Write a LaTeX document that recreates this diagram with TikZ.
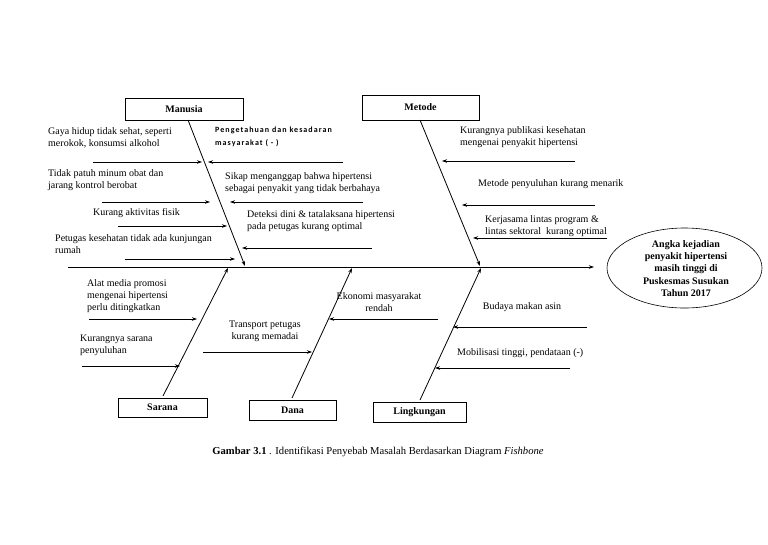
\documentclass[tikz,border=0pt]{standalone}
\usepackage{fontspec}
\setmainfont{Liberation Serif}
\newfontfamily\calibfont{Carlito}[LetterSpace=13]
\usetikzlibrary{arrows.meta,shapes.geometric}
\begin{document}
\begin{tikzpicture}[x=1pt,y=-1pt,
  txt/.style={font=\fontsize{10}{12}\selectfont, inner sep=0pt, align=left},
  ctxt/.style={font=\fontsize{10}{12}\selectfont, inner sep=0pt, align=center},
  cat/.style={draw, line width=0.8pt, inner sep=0pt, font=\bfseries\fontsize{10}{12}\selectfont},
  bone/.style={line width=0.8pt, -{Stealth[length=5pt,width=3.5pt]}},
  sub/.style={line width=0.7pt, -{Stealth[length=5pt,width=3.5pt]}}]
\useasboundingbox (0,0) rectangle (768,544);

% category boxes
\node[cat, minimum width=118pt, minimum height=22pt] (manusia) at (184,109) {Manusia};
\node[cat, minimum width=117pt, minimum height=25pt] (metode) at (420.5,107.5) {Metode};
\node[cat, minimum width=89pt, minimum height=19pt] (sarana) at (162.5,407.5) {Sarana};
\node[cat, minimum width=87pt, minimum height=20pt] (dana) at (292.5,410) {Dana};
\node[cat, minimum width=93pt, minimum height=20pt] (lingk) at (419.5,412) {Lingkungan};

% effect
\node[ellipse, draw, line width=0.6pt, minimum width=155pt, minimum height=80pt, inner sep=0pt] (effect) at (684.5,268) {};
\node[font=\bfseries\fontsize{10}{12.3}\selectfont, align=center, inner sep=0pt] (efftxt) at (686,268.5)
  {Angka kejadian\\penyakit hipertensi\\masih tinggi di\\Puskesmas Susukan\\Tahun 2017};

% spine
\coordinate (s0) at (68,267);
\coordinate (s1) at (594,267);
\draw[bone] (s0) -- (s1);

% main bones
\coordinate (m1) at (188,120); \coordinate (m2) at (245,266);
\coordinate (t1) at (420,120); \coordinate (t2) at (480,266);
\coordinate (a1) at (163,396); \coordinate (a2) at (228,268);
\coordinate (d1) at (292,398); \coordinate (d2) at (352,268);
\coordinate (l1) at (420,400); \coordinate (l2) at (481,268);
\draw[bone] (m1) -- (m2);
\draw[bone] (t1) -- (t2);
\draw[bone] (a1) -- (a2);
\draw[bone] (d1) -- (d2);
\draw[bone] (l1) -- (l2);

% Manusia causes
\coordinate (ma1) at (93,162);  \coordinate (ma2) at (202,162);
\coordinate (mb1) at (343,162); \coordinate (mb2) at (208,162);
\coordinate (mc1) at (102,202); \coordinate (mc2) at (210,202);
\coordinate (md1) at (363,202); \coordinate (md2) at (230,202);
\coordinate (me1) at (118,226); \coordinate (me2) at (227,226);
\coordinate (mf1) at (372,248); \coordinate (mf2) at (242,248);
\coordinate (mg1) at (125,259); \coordinate (mg2) at (235,259);
\foreach \p in {ma,mb,mc,md,me,mf,mg} \draw[sub] (\p1) -- (\p2);

\node[txt, anchor=west] (tma) at (48,138) {Gaya hidup tidak sehat, seperti\\merokok, konsumsi alkohol};
\node[font=\calibfont\bfseries\fontsize{8}{12.5}\selectfont, inner sep=0pt, align=left, anchor=west] (tmb) at (215,137) {Pengetahuan dan kesadaran\\masyarakat ( - )};
\node[txt, anchor=west] (tmc) at (48,180.5) {Tidak patuh minum obat dan\\jarang kontrol berobat};
\node[txt, anchor=west] (tmd) at (225,183.5) {Sikap menganggap bahwa hipertensi\\sebagai penyakit yang tidak berbahaya};
\node[txt, anchor=west] (tme) at (93,213) {Kurang aktivitas fisik};
\node[txt, anchor=west] (tmf) at (247,221.5) {Deteksi dini \& tatalaksana hipertensi\\pada petugas kurang optimal};
\node[txt, anchor=west] (tmg) at (55,244.5) {Petugas kesehatan tidak ada kunjungan\\rumah};

% Metode causes
\coordinate (ta1) at (575,161); \coordinate (ta2) at (442,161);
\coordinate (tb1) at (595,205); \coordinate (tb2) at (462,205);
\coordinate (tc1) at (607,238); \coordinate (tc2) at (473,238);
\foreach \p in {ta,tb,tc} \draw[sub] (\p1) -- (\p2);
\node[txt, anchor=west] (tta) at (460,137.5) {Kurangnya publikasi kesehatan\\mengenai penyakit hipertensi};
\node[txt, anchor=west] (ttb) at (478,184) {Metode penyuluhan kurang menarik};
\node[txt, anchor=west] (ttc) at (485,226.5) {Kerjasama lintas program \&\\lintas sektoral\ \ kurang optimal};

% Sarana causes
\coordinate (aa1) at (89,319);  \coordinate (aa2) at (197,319);
\coordinate (ab1) at (82,366);  \coordinate (ab2) at (180,366);
\foreach \p in {aa,ab} \draw[sub] (\p1) -- (\p2);
\node[txt, anchor=west] (taa) at (87,296.5) {Alat media promosi\\mengenai hipertensi\\perlu ditingkatkan};
\node[txt, anchor=west] (tab) at (80,345.5) {Kurangnya sarana\\penyuluhan};

% Dana causes
\coordinate (da1) at (203,352); \coordinate (da2) at (312,352);
\coordinate (db1) at (438,319); \coordinate (db2) at (329,319);
\foreach \p in {da,db} \draw[sub] (\p1) -- (\p2);
\node[ctxt] (tda) at (265,331) {Transport petugas\\kurang memadai};
\node[ctxt] (tdb) at (379,302) {Ekonomi masyarakat\\rendah};

% Lingkungan causes
\coordinate (la1) at (587,327); \coordinate (la2) at (453,327);
\coordinate (lb1) at (570,368); \coordinate (lb2) at (435,368);
\foreach \p in {la,lb} \draw[sub] (\p1) -- (\p2);
\node[ctxt] (tla) at (522,307) {Budaya makan asin};
\node[txt, anchor=west] (tlb) at (457,353) {Mobilisasi tinggi, pendataan (-)};

% caption
\node[font=\fontsize{10.6}{12}\selectfont, inner sep=0pt] (cap) at (378,452)
  {\textbf{Gambar 3.1} . Identifikasi Penyebab Masalah Berdasarkan Diagram \textit{Fishbone}};
\end{tikzpicture}
\end{document}
